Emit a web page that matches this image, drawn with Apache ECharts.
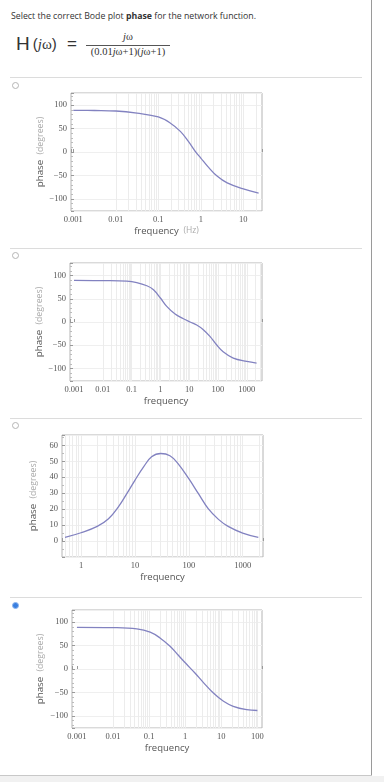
<!DOCTYPE html>
<html>
<head>
<meta charset="utf-8">
<script src="https://cdn.jsdelivr.net/npm/echarts@6/dist/echarts.min.js"></script>
<style>
  html, body { margin: 0; padding: 0; background: #fff; }
  body { width: 384px; height: 782px; position: relative; overflow: hidden; font-family: 'Open Sans', 'Liberation Sans', sans-serif; }
  .abs { position: absolute; }
  .sep { position: absolute; left: 10px; width: 352px; height: 1px; background: #dcdcdc; }
  .radio { position: absolute; width: 5px; height: 5px; border: 1px solid #b5b5b5; border-radius: 50%; background: #fff; }
  #chart { position: absolute; left: 0; top: 0; width: 384px; height: 782px; }
</style>
</head>
<body>
<div class="abs" style="left:11px; top:10px; font-size:8.75px; color:#333; white-space:nowrap;">Select the correct Bode plot <b>phase</b> for the network function.</div>
<div class="abs" style="left:16px; top:33px; font-size:19px; color:#333; font-family:'Liberation Sans',sans-serif; white-space:nowrap;">H<span style="font-size:15px; position:relative; top:-1px;">&thinsp;(<i style="font-family:'Liberation Serif',serif;">j</i><span style="font-family:'Liberation Serif',serif;">ω</span>)</span></div>
<div class="abs" style="left:67px; top:34px; font-size:17px; color:#333; font-family:'Liberation Sans',sans-serif;">=</div>
<div class="abs" style="left:86px; top:31px; width:84px; text-align:center; font-size:10.5px; color:#333; font-family:'Liberation Serif',serif;"><i>j</i>ω</div>
<div class="abs" style="left:86px; top:45px; width:84px; height:1px; background:#555;"></div>
<div class="abs" style="left:84px; top:46px; width:88px; text-align:center; font-size:10.5px; color:#333; font-family:'Liberation Serif',serif; white-space:nowrap;">(0.01<i>j</i>ω+1)(<i>j</i>ω+1)</div>

<div class="sep" style="top:77px;"></div>
<div class="sep" style="top:248px;"></div>
<div class="sep" style="top:418px;"></div>
<div class="sep" style="top:597px;"></div>
<div class="abs" style="left:371px; top:0; width:1px; height:775px; background:#9a9a9a;"></div>
<div class="abs" style="left:0; top:775px; width:372px; height:1px; background:#c8c8c8;"></div>
<div class="abs" style="left:0; top:776px; width:384px; height:6px; background:#f1f1f1;"></div>

<div class="radio" style="left:12px; top:82px;"></div>
<div class="radio" style="left:12px; top:252px;"></div>
<div class="radio" style="left:12px; top:422px;"></div>
<div class="radio" style="left:12px; top:602px; background:#3a7fe0; border-color:#8fb6ee;"></div>

<div id="chart"></div>
<script>
// ---- data ----
// Option 1
const freq1  = [0.001, 0.00316, 0.01, 0.0316, 0.1, 0.19, 0.33, 0.51, 0.74, 1, 1.45, 2.45, 4.17, 10, 22.9];
const phase1 = [89, 88.6, 87.6, 83, 74.8, 62, 44, 22.6, 1.3, -13, -30.7, -52, -66, -79, -87.6];
// Option 2
const freq2  = [0.001, 0.0105, 0.0676, 0.151, 0.339, 0.575, 1, 1.66, 3.24, 6.31, 10.7, 18.2, 30.9, 52.5, 89.1, 151, 339, 1000, 2188];
const phase2 = [89.4, 89, 88, 85, 78, 69.5, 51.6, 33.6, 17, 7, 0, -6.5, -16.5, -31, -49, -64, -77.6, -84.7, -88.3];
// Option 3
const freq3  = [0.505, 1, 2, 3.24, 4.9, 7.08, 10, 14.5, 20.4, 30.2, 44.7, 63.1, 100, 151, 229, 355, 537, 1000, 1950];
const phase3 = [2.3, 5.2, 9.2, 14, 21.3, 29.7, 38.1, 46.5, 52.8, 54.9, 53.5, 48.6, 39.1, 29.7, 20.3, 13.6, 9.2, 5.0, 2.3];
// Option 4
const freq4  = [0.001, 0.0102, 0.0457, 0.107, 0.2, 0.38, 0.646, 1.05, 1.86, 3.16, 6.03, 11.5, 21.4, 50.1, 100];
const phase4 = [89, 88.4, 85.7, 78.6, 66.4, 48.6, 29.3, 11.6, -8.6, -28.5, -51.4, -69, -79.7, -86.9, -88.6];

// tick labels
const yTicksPhase = [-100, -50, 0, 50, 100];
const yTicksPeak  = [0, 10, 20, 30, 40, 50, 60];
const xTicks1 = [0.001, 0.01, 0.1, 1, 10];
const xTicks2 = [0.001, 0.01, 0.1, 1, 10, 100, 1000];
const xTicks3 = [1, 10, 100, 1000];
const xTicks4 = [0.001, 0.01, 0.1, 1, 10, 100];

const xNames = ['frequency  {l|(Hz)}', 'frequency', 'frequency', 'frequency'];

// ---- layout ----
const grids = [
  { left: 71, top: 93,  width: 191, height: 118 },
  { left: 70, top: 263, width: 192, height: 118 },
  { left: 62, top: 435, width: 201, height: 122 },
  { left: 72, top: 610, width: 190, height: 118 }
];
const xRange = [[0.000883, 27.5], [0.000726, 3373], [0.444, 2382], [0.000731, 134]];
const yRange = [[-126, 126], [-127, 127], [-10, 66.5], [-126, 126]];
const yNameGap = [26, 25, 17, 27];
const xTickSets = [xTicks1, xTicks2, xTicks3, xTicks4];
const yTickSets = [yTicksPhase, yTicksPhase, yTicksPeak, yTicksPhase];
const series = [[freq1, phase1], [freq2, phase2], [freq3, phase3], [freq4, phase4]];

function fmtPow(v) {
  const e = Math.round(Math.log10(v));
  if (e < 0) return (Math.pow(10, e)).toFixed(-e);
  return String(Math.round(Math.pow(10, e)));
}
function gridVals(min, max) {
  const out = [];
  for (let e = Math.floor(Math.log10(min)); e <= Math.ceil(Math.log10(max)); e++) {
    for (let k = 1; k <= 9; k++) {
      const v = k * Math.pow(10, e);
      if (v > min && v < max) out.push({ xAxis: v });
    }
  }
  return out;
}

const numFont = { fontFamily: "'Liberation Serif', serif", fontSize: 8.5, color: '#555' };
const opt = { animation: false, grid: [], xAxis: [], yAxis: [], series: [] };

for (let i = 0; i < 4; i++) {
  opt.grid.push(Object.assign({ show: true, borderColor: '#b4b4b4', borderWidth: 1, backgroundColor: 'transparent' }, grids[i]));
  const xt = xTickSets[i];
  opt.xAxis.push({
    type: 'log', logBase: 10, gridIndex: i,
    min: xRange[i][0], max: xRange[i][1],
    axisLine: { show: false },
    axisTick: { show: true, inside: true, length: 3, lineStyle: { color: '#999' } },
    splitLine: { show: false },
    axisLabel: Object.assign({
      margin: 4,
      formatter: function (v) {
        const hit = xt.find(t => Math.abs(Math.log10(v) - Math.log10(t)) < 1e-6);
        return hit === undefined ? '' : fmtPow(hit);
      }
    }, numFont),
    name: xNames[i], nameLocation: 'middle', nameGap: 15,
    nameTextStyle: {
      fontFamily: "'Open Sans', 'Liberation Sans', sans-serif", fontSize: 9.5, color: '#555',
      rich: { l: { fontFamily: "'Open Sans', 'Liberation Sans', sans-serif", fontSize: 8.5, color: '#aaa' } }
    }
  });
  const yt = yTickSets[i];
  opt.yAxis.push({
    type: 'value', gridIndex: i,
    min: yRange[i][0], max: yRange[i][1],
    interval: i === 2 ? 10 : undefined,
    axisLine: { show: false },
    axisTick: { show: true, inside: true, length: 3, lineStyle: { color: '#999' } },
    minorTick: { show: true, splitNumber: i === 2 ? 2 : 5, length: 2, lineStyle: { color: '#bbb' } },
    splitLine: { show: true, lineStyle: { color: '#efefef', width: 1 } },
    axisLabel: Object.assign({
      margin: 4,
      formatter: function (v) {
        const hit = yt.find(t => Math.abs(v - t) < 1e-6);
        return hit === undefined ? '' : (hit < 0 ? '\u2212' + Math.abs(hit) : String(hit));
      }
    }, numFont),
    name: 'phase  {l|(degrees)}', nameLocation: 'middle', nameGap: yNameGap[i], nameRotate: 90,
    nameTextStyle: {
      fontFamily: "'Open Sans', 'Liberation Sans', sans-serif", fontSize: 9.8, color: '#555',
      rich: { l: { fontFamily: "'Open Sans', 'Liberation Sans', sans-serif", fontSize: 8.8, color: '#aaa' } }
    }
  });
  // vertical log grid lines (1..9 per decade)
  opt.series.push({
    type: 'line', xAxisIndex: i, yAxisIndex: i, data: [], z: 1, silent: true,
    markLine: {
      silent: true, symbol: ['none', 'none'], label: { show: false },
      lineStyle: { color: '#ececec', width: 1, type: 'solid' },
      emphasis: { disabled: true },
      data: gridVals(xRange[i][0], xRange[i][1])
    }
  });
  const [fx, py] = series[i];
  opt.series.push({
    type: 'line', xAxisIndex: i, yAxisIndex: i, z: 5,
    data: fx.map((f, k) => [f, py[k]]),
    showSymbol: false, smooth: 0.4,
    lineStyle: { color: '#8282c0', width: 1.3 }
  });
}

const chart = echarts.init(document.getElementById('chart'), null, { renderer: 'canvas' });
chart.setOption(opt);
</script>
</body>
</html>
